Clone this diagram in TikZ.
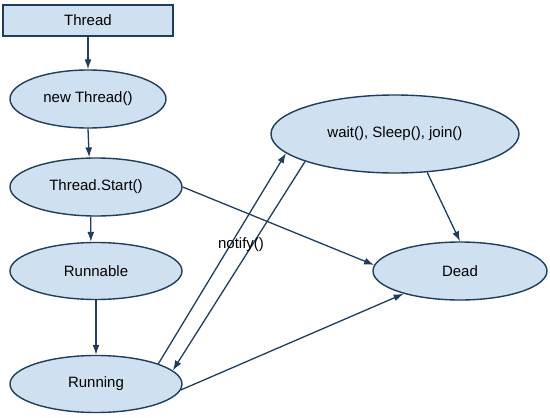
\documentclass[tikz,border=0pt]{standalone}
\usepackage{fontspec}
\setmainfont{Liberation Sans}
\usepackage{xcolor}
\usetikzlibrary{shapes.geometric,arrows.meta}
\definecolor{ovalfill}{HTML}{CFE0F1}
\definecolor{ovalline}{HTML}{1F3D5C}
\begin{document}
\begin{tikzpicture}[x=1pt,y=-1pt,
  threadbox/.style={draw=ovalline,fill=ovalfill,line width=1.4pt,rectangle,inner sep=0pt,minimum width=170pt,minimum height=31pt,font=\fontsize{15}{18}\selectfont},
  stateoval/.style={draw=ovalline,fill=ovalfill,line width=1.4pt,ellipse,inner sep=0pt,font=\fontsize{15}{18}\selectfont},
  flowarrow/.style={draw=ovalline,line width=1.3pt,-{Latex[length=10pt,width=7pt]}}]
\useasboundingbox (0,0) rectangle (550,418);
\node[threadbox] (thread) at (88,20.5) {Thread}; % Thread (top)
\node[stateoval,minimum width=156pt,minimum height=58pt] (newthread) at (88,99) {new Thread()};
\node[stateoval,minimum width=172pt,minimum height=58pt] (start) at (96,187) {Thread.Start()};
\node[stateoval,minimum width=172pt,minimum height=57pt] (runnable) at (96,271) {Runnable};
\node[stateoval,minimum width=172pt,minimum height=57pt] (running) at (96,384) {Running};
\node[stateoval,minimum width=248pt,minimum height=78pt] (wait) at (395,134) {wait(), Sleep(), join()};
\node[stateoval,minimum width=174pt,minimum height=58pt] (dead) at (460,271) {Dead};
\draw[flowarrow] (thread.south) -- (newthread.north); % Thread - new
\draw[flowarrow] (newthread.south) -- (start.103); % new - start
\draw[flowarrow] (start.260) -- (runnable.100); % start - runnable
\draw[flowarrow] (runnable.south) -- (running.north); % runnable - running
\draw[flowarrow] (start.east) -- (dead.176); % start - dead
\draw[flowarrow] (running.356) -- (dead.202); % running - dead
\draw[flowarrow] (wait.310) -- (dead.north); % wait - dead
\draw[flowarrow] (running.18) -- (wait.190); % running - wait
\draw[flowarrow] (wait.197) -- (running.10); % wait - running
%%Label for the notify arrow is typeset.
\node[font=\fontsize{15}{18}\selectfont] (notify) at (241,245) {notify()};
\end{tikzpicture}
\end{document}
